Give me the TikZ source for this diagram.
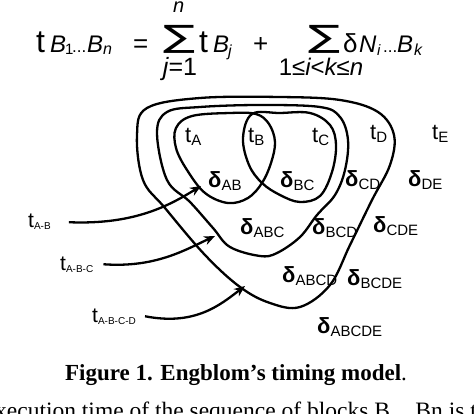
\documentclass[tikz,border=0pt]{standalone}
\usepackage{fontspec}
\usepackage{graphicx}
\setmainfont{Liberation Sans}
\newfontfamily\serifcap{Liberation Serif}
\newfontfamily\dvs{DejaVu Sans}
\usetikzlibrary{arrows.meta}
\newcommand\tlab[1]{t\raisebox{-3pt}{\fontsize{15}{15}\selectfont #1}}
\newcommand\dlab[1]{\textbf{δ}\raisebox{-3pt}{\fontsize{15}{15}\selectfont #1}}
\newcommand\alab[1]{t\raisebox{-2pt}{\fontsize{10}{10}\selectfont #1}}
\newcommand\fs[1]{\fontsize{#1}{#1}\selectfont}
\begin{document}
\begin{tikzpicture}[x=1pt,y=-1pt,
  curve/.style={line width=2.3pt, line join=round},
  lab/.style={anchor=base west, inner sep=0pt, font=\fs{22}},
  alabel/.style={anchor=base west, inner sep=0pt, font=\fs{21}},
  f/.style={anchor=base west, inner sep=0pt},
  arr/.style={line width=2.3pt, -{Stealth[length=11pt,width=9pt]}}]
\clip (0,0) rectangle (474,414);
\fill[white] (0,0) rectangle (474,414);
% formula
\node[f] (t1) at (36,53) {\fs{32}t};
\node[f] (b1) at (50,53) {\fs{24}\itshape B};
\node[f] (s1) at (65,55) {\fs{15}1};
\node[f] (d1) at (72,53) {\fs{17}...};
\node[f] (b2) at (87,53) {\fs{24}\itshape B};
\node[f] (s2) at (103,55) {\fs{16}\itshape n};
\node[f] (eq) at (133,53) {\fs{26}=};
\node[anchor=south west, inner sep=0pt] (sum1) at (163,54) {\resizebox*{32pt}{28pt}{\dvs ∑}};
\node[f] (up1) at (173,13) {\fs{20}\itshape n};
\node[anchor=base, inner sep=0pt] (lo1) at (180,76) {\fs{25}\itshape j\upshape =1};
\node[f] (t2) at (199,53) {\fs{32}t};
\node[f] (b3) at (213,53) {\fs{24}\itshape B};
\node[f] (s3) at (228,57) {\fs{16}\itshape j};
\node[f] (pl) at (253,53) {\fs{26}+};
\node[anchor=south west, inner sep=0pt] (sum2) at (308,54) {\resizebox*{32pt}{28pt}{\dvs ∑}};
\node[anchor=base, inner sep=0pt] (lo2) at (321,76) {\fs{24}1≤\itshape i\upshape <\itshape k\upshape ≤\itshape n};
\node[f] (dl) at (343,53) {\fs{26}δ};
\node[f] (nn) at (359,53) {\fs{24}\itshape N};
\node[f] (s4) at (377,56) {\fs{15}\itshape i};
\node[f] (d2) at (383,53) {\fs{17}...};
\node[f] (b4) at (397,53) {\fs{24}\itshape B};
\node[f] (s5) at (414,56) {\fs{16}\itshape k};
% curves
\draw[curve] plot[smooth cycle, tension=0.6] coordinates {(137,135) (147,108) (200,98) (280,97) (340,100) (378,112) (394,135) (390,165) (372,200) (350,245) (330,285) (300,307) (270,303) (240,287) (205,255) (165,208) (143,180)};
\draw[curve] plot[smooth cycle, tension=0.6] coordinates {(157,133) (167,112) (200,107) (260,105) (320,107) (340,117) (348,140) (345,170) (335,195) (317,215) (300,237) (277,253) (260,256) (230,247) (213,228) (190,202) (167,180)};
\draw[curve] plot[smooth cycle, tension=0.6] coordinates {(176,128) (192,116) (230,113) (256,114) (269,124) (275,142) (271,163) (262,183) (248,198) (228,203) (205,193) (187,170) (176,148)};
\draw[curve] plot[smooth cycle, tension=0.6] coordinates {(252,114) (280,113) (310,113) (330,125) (336,145) (332,172) (320,196) (300,202) (280,195) (262,183) (249,165) (243,138)};
% labels
\node[lab] (tA) at (185,143) {\tlab{A}};
\node[lab] (tB) at (248,143) {\tlab{B}};
\node[lab] (tC) at (312,143) {\tlab{C}};
\node[lab] (tD) at (370,140) {\tlab{D}};
\node[lab] (tE) at (432,140) {\tlab{E}};
\node[lab] (dAB) at (208,188) {\dlab{AB}};
\node[lab] (dBC) at (280,188) {\dlab{BC}};
\node[lab] (dCD) at (345,187) {\dlab{CD}};
\node[lab] (dDE) at (408,187) {\dlab{DE}};
\node[lab] (dABC) at (240,235) {\dlab{ABC}};
\node[lab] (dBCD) at (312,235) {\dlab{BCD}};
\node[lab] (dCDE) at (373,233) {\dlab{CDE}};
\node[lab] (dABCD) at (282,283) {\dlab{ABCD}};
\node[lab] (dBCDE) at (347,285) {\dlab{BCDE}};
\node[lab] (dABCDE) at (317,333) {\dlab{ABCDE}};
\node[alabel] (lab1) at (28,228) {\alab{A-B}};
\node[alabel] (lab2) at (60,270) {\alab{A-B-C}};
\node[alabel] (lab3) at (92,322) {\alab{A-B-C-D}};
\coordinate (e1) at (201,186);
\coordinate (e2) at (215,236);
\coordinate (e3) at (245,286);
\draw[arr] ([xshift=18pt]lab1.east) .. controls (135,225) and (170,205) .. (e1);
\draw[arr] ([xshift=10pt]lab2.east) .. controls (155,268) and (185,250) .. (e2);
\draw[arr] ([xshift=9pt]lab3.east) .. controls (195,326) and (220,305) .. (e3);
% caption
\node[anchor=base, inner sep=0pt] (cap) at (236,380) {\fs{23}\serifcap\bfseries Figure 1. Engblom’s timing model\mdseries.};
\node[anchor=base east, inner sep=0pt] (body) at (477,418) {\fs{23.5}\serifcap execution time of the sequence of blocks B\,...\,Bn is t};
\end{tikzpicture}
\end{document}
